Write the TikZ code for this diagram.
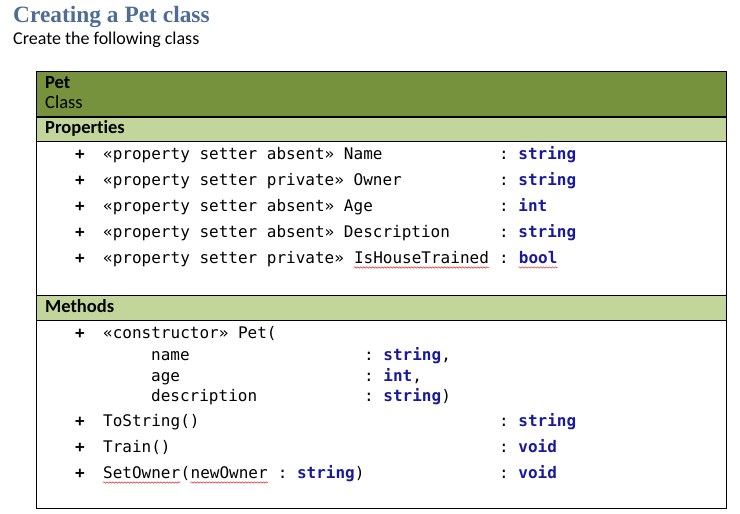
\documentclass[tikz,border=0pt]{standalone}
\usepackage{fontspec}
\setmainfont{Carlito}[Ligatures={TeX,NoCommon}]
\setmonofont{DejaVu Sans Mono}
\newfontfamily\headingfont{Liberation Serif}
\usetikzlibrary{positioning, calc, decorations.pathmorphing}
\definecolor{headingblue}{RGB}{79, 108, 148}
\definecolor{classgreen}{RGB}{118, 146, 60}
\definecolor{bandgreen}{RGB}{194, 214, 155}
\definecolor{typeblue}{RGB}{25, 25, 160}
\definecolor{spellred}{RGB}{220, 40, 40}
\newcommand{\umltype}[1]{\textcolor{typeblue}{\bfseries #1}}

\begin{document}
\begin{tikzpicture}[
    x=1pt, y=-1pt,
    % Styles
    boxpart/.style={
        rectangle,
        draw=black,
        line width=0.8pt,
        minimum width=690pt,
        anchor=north west,
        inner sep=0pt
    },
    sectiontext/.style={
        anchor=base west,
        inner sep=0pt,
        font=\fontsize{18.5}{21}\selectfont
    },
    sectionhead/.style={
        sectiontext,
        font=\fontsize{18.5}{21}\selectfont\bfseries
    },
    codetext/.style={
        anchor=base west,
        inner sep=0pt,
        font=\fontsize{16}{18}\selectfont\ttfamily
    },
    plussign/.style={
        codetext,
        anchor=base,
        font=\fontsize{16}{18}\selectfont\ttfamily\bfseries
    },
    spellmark/.style={
        draw=spellred,
        line width=0.5pt,
        decorate,
        decoration={snake, amplitude=0.7pt, segment length=3pt}
    }
]
\useasboundingbox (0,0) rectangle (740,514);

% --- Heading ---
\node (title) [anchor=base west, inner sep=0pt, text=headingblue,
    font=\headingfont\bfseries\fontsize{23.4}{26}\selectfont] at (13,22) {Creating a Pet class};
\node (subtitle) [sectiontext, font=\fontsize{18}{20}\selectfont] at (13,44) {Create the following class};

% --- Class box: bands ---
\node (classhead) [boxpart, fill=classgreen, minimum height=45pt] at (36,71) {};
\node (propband) [boxpart, fill=bandgreen, minimum height=24pt] at (classhead.south west) {};
\node (methodband) [boxpart, fill=bandgreen, minimum height=25pt] at (36,295) {};
\node (classbox) [boxpart, minimum height=437pt] at (36,71) {};

\node (classname) [sectionhead] at (45,88) {Pet};
\node (classkind) [sectiontext] at (45,108) {Class};
\node (proptitle) [sectionhead] at (45,133) {Properties};
\node (methodtitle) [sectionhead] at (45,312) {Methods};

% --- Properties ---
\node (plus1) [plussign] at (80,159) {+};
\node (prop1) [codetext] at (103,159) {«property setter absent» Name};
\node (type1) [codetext] at (499,159) {: \umltype{string}};

\node (plus2) [plussign] at (80,185) {+};
\node (prop2) [codetext] at (103,185) {«property setter private» Owner};
\node (type2) [codetext] at (499,185) {: \umltype{string}};

\node (plus3) [plussign] at (80,211) {+};
\node (prop3) [codetext] at (103,211) {«property setter absent» Age};
\node (type3) [codetext] at (499,211) {: \umltype{int}};

\node (plus4) [plussign] at (80,237) {+};
\node (prop4) [codetext] at (103,237) {«property setter absent» Description};
\node (type4) [codetext] at (499,237) {: \umltype{string}};

\node (plus5) [plussign] at (80,263) {+};
\node (prop5) [codetext] at (103,263) {«property setter private»~\mbox{}};
\node (prop5name) [codetext] at (prop5.base east) {IsHouseTrained};
\node (type5) [codetext] at (499,263) {:~\mbox{}};
\node (type5name) [codetext] at (type5.base east) {\umltype{bool}};

% --- Methods ---
\node (plus6) [plussign] at (80,338) {+};
\node (ctor) [codetext] at (103,338) {«constructor» Pet(};
\node (argname) [codetext] at (151,360) {name};
\node (argnametype) [codetext] at (364,360) {: \umltype{string},};
\node (argage) [codetext] at (151,381) {age};
\node (argagetype) [codetext] at (364,381) {: \umltype{int},};
\node (argdesc) [codetext] at (151,401) {description};
\node (argdesctype) [codetext] at (364,401) {: \umltype{string})};

\node (plus7) [plussign] at (80,426) {+};
\node (tostring) [codetext] at (103,426) {ToString()};
\node (tostringtype) [codetext] at (499,426) {: \umltype{string}};

\node (plus8) [plussign] at (80,452) {+};
\node (train) [codetext] at (103,452) {Train()};
\node (traintype) [codetext] at (499,452) {: \umltype{void}};

\node (plus9) [plussign] at (80,478) {+};
\node (setowner) [codetext] at (103,478) {SetOwner};
\node (setowneropen) [codetext] at (setowner.base east) {(};
\node (setownerarg) [codetext] at (setowneropen.base east) {newOwner};
\node (setownerrest) [codetext] at (setownerarg.base east) {~: \umltype{string})};
\node (setownertype) [codetext] at (499,478) {: \umltype{void}};

% --- Spelling marks ---
\draw [spellmark] ($(prop5name.base west)+(0,4.5)$) -- ($(prop5name.base east)+(0,4.5)$);
\draw [spellmark] ($(type5name.base west)+(0,4.5)$) -- ($(type5name.base east)+(0,4.5)$);
\draw [spellmark] ($(setowner.base west)+(0,4.5)$) -- ($(setowner.base east)+(0,4.5)$);
\draw [spellmark] ($(setownerarg.base west)+(0,4.5)$) -- ($(setownerarg.base east)+(0,4.5)$);

\end{tikzpicture}
\end{document}
